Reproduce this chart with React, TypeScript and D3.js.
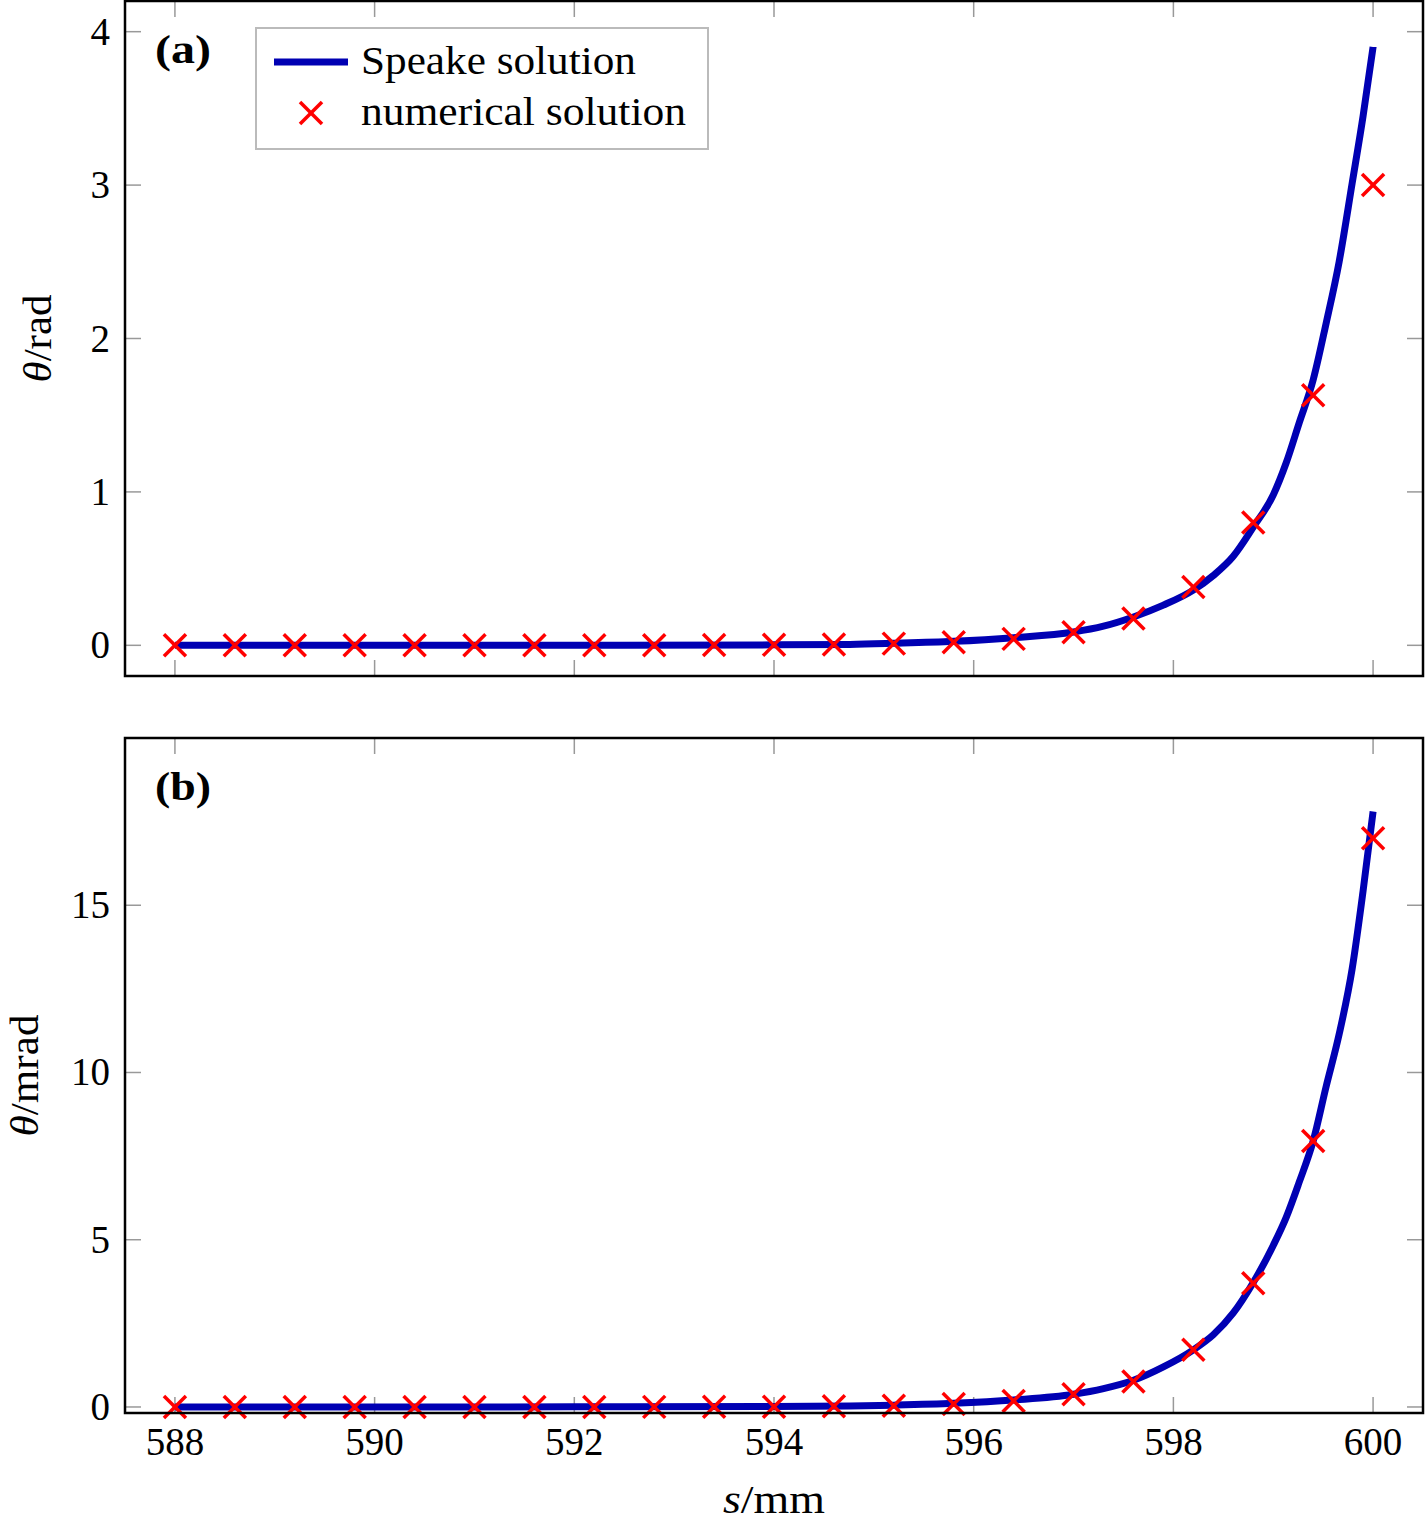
import React from "react";
import * as d3 from "d3";

// s positions (mm) of the numerical solution
const markerS = [588, 588.6, 589.2, 589.8, 590.4, 591, 591.6, 592.2, 592.8, 593.4, 594, 594.6, 595.2, 595.8, 596.4, 597, 597.6, 598.2, 598.8, 599.4, 600];
// theta in rad (panel a) and mrad (panel b)
const markerRad = [0, 0, 0, 0, 0, 0, 0, 0.001, 0.001, 0.002, 0.003, 0.006, 0.011, 0.02, 0.042, 0.085, 0.175, 0.38, 0.8, 1.63, 3.0];
const markerMrad = [0, 0, 0, 0, 0, 0, 0, 0.002, 0.003, 0.005, 0.01, 0.02, 0.04, 0.09, 0.18, 0.38, 0.76, 1.71, 3.7, 7.95, 17.0];

// Speake solution samples
const curveS = [588, 590, 592, 594, 594.76, 595.2, 595.8, 596.4, 597, 597.3, 597.6, 597.9, 598.2, 598.4, 598.6, 598.8, 599.0, 599.13, 599.26, 599.4, 599.53, 599.66, 599.79, 599.9, 600];
const curveRad = [0, 0.0002, 0.0008, 0.003, 0.006, 0.013, 0.026, 0.05, 0.087, 0.125, 0.185, 0.262, 0.36, 0.455, 0.58, 0.77, 0.98, 1.19, 1.45, 1.73, 2.1, 2.5, 3.01, 3.45, 3.9];
const curveMrad = [0, 0.001, 0.004, 0.014, 0.028, 0.055, 0.11, 0.21, 0.38, 0.55, 0.8, 1.2, 1.71, 2.16, 2.81, 3.72, 4.83, 5.67, 6.72, 7.95, 9.58, 11.14, 13.09, 15.43, 17.8];

const xTicks = [588, 590, 592, 594, 596, 598, 600];
const yTicksRad = [0, 1, 2, 3, 4];
const yTicksMrad = [0, 5, 10, 15];

const FONT = "'Liberation Serif', 'DejaVu Serif', serif";
const FS = 39;
const BLUE = "#0000b3";
const RED = "#ff0000";
const TICK = "#999999";

const x = d3.scaleLinear().domain([587.5, 600.5]).range([125, 1423]);

function Cross({ cx, cy }: { cx: number; cy: number }) {
  const r = 11;
  return (
    <g stroke={RED} strokeWidth={3.5}>
      <line x1={cx - r} y1={cy - r} x2={cx + r} y2={cy + r} />
      <line x1={cx - r} y1={cy + r} x2={cx + r} y2={cy - r} />
    </g>
  );
}

function Panel({ y, yTicks, curve, markers, label, unit, labelX, labelLen }: any) {
  const [yBottom, yTop] = y.range();
  const left = 125, right = 1423;
  const tl = 16;
  const line = d3.line<number>()
    .x((_, i) => x(curveS[i]))
    .y((d) => y(d))
    .curve(d3.curveMonotoneX);
  return (
    <g>
      {/* inward ticks on all four sides */}
      <g stroke={TICK} strokeWidth={1.5}>
        {xTicks.map((t) => (
          <g key={"x" + t}>
            <line x1={x(t)} x2={x(t)} y1={yBottom} y2={yBottom - tl} />
            <line x1={x(t)} x2={x(t)} y1={yTop} y2={yTop + tl} />
          </g>
        ))}
        {yTicks.map((t: number) => (
          <g key={"y" + t}>
            <line x1={left} x2={left + tl} y1={y(t)} y2={y(t)} />
            <line x1={right} x2={right - tl} y1={y(t)} y2={y(t)} />
          </g>
        ))}
      </g>
      <path d={line(curve) || ""} fill="none" stroke={BLUE} strokeWidth={7} />
      {markers.map((v: number, i: number) => (
        <Cross key={i} cx={x(markerS[i])} cy={y(v)} />
      ))}
      <rect x={left} y={yTop} width={right - left} height={yBottom - yTop} fill="none" stroke="#000" strokeWidth={2.5} />
      {yTicks.map((t: number) => (
        <text key={"yl" + t} x={110} y={y(t) + 13} textAnchor="end" fontSize={FS} fontFamily={FONT}>{t}</text>
      ))}
      <text x={155} y={yTop + 62} fontSize={FS} fontWeight="bold" fontFamily={FONT}
        textLength={56} lengthAdjust="spacingAndGlyphs">{label}</text>
      <text transform={`translate(${labelX},${(yTop + yBottom) / 2}) rotate(-90)`} textAnchor="middle" fontSize={FS} fontFamily={FONT}
        textLength={labelLen} lengthAdjust="spacingAndGlyphs">
        <tspan fontStyle="italic">θ</tspan>/{unit}
      </text>
    </g>
  );
}

export default function App() {
  const yRad = d3.scaleLinear().domain([-0.2, 4.2]).range([676, 1]);
  const yMrad = d3.scaleLinear().domain([-0.18, 20]).range([1413, 738]);
  return (
    <svg width={1425} height={1524} style={{ position: "absolute", left: 0, top: 0, background: "#fff" }}>
      <rect width={1425} height={1524} fill="#fff" />
      <Panel y={yRad} yTicks={yTicksRad} curve={curveRad} markers={markerRad} label="(a)" unit="rad" labelX={51} labelLen={88} />
      <Panel y={yMrad} yTicks={yTicksMrad} curve={curveMrad} markers={markerMrad} label="(b)" unit="mrad" labelX={38} labelLen={122} />
      {xTicks.map((t) => (
        <text key={t} x={x(t)} y={1455} textAnchor="middle" fontSize={FS} fontFamily={FONT}>{t}</text>
      ))}
      <text x={774} y={1513} textAnchor="middle" fontSize={FS} fontFamily={FONT}
        textLength={102} lengthAdjust="spacingAndGlyphs">
        <tspan fontStyle="italic">s</tspan>/mm
      </text>
      {/* legend */}
      <g>
        <rect x={256} y={28} width={452} height={121} fill="#fff" stroke="#bbbbbb" strokeWidth={2} />
        <line x1={274} x2={348} y1={62} y2={62} stroke={BLUE} strokeWidth={7} />
        <text x={361} y={74} fontSize={FS} fontFamily={FONT} textLength={275} lengthAdjust="spacingAndGlyphs">Speake solution</text>
        <Cross cx={311} cy={113} />
        <text x={361} y={125} fontSize={FS} fontFamily={FONT} textLength={325} lengthAdjust="spacingAndGlyphs">numerical solution</text>
      </g>
    </svg>
  );
}
